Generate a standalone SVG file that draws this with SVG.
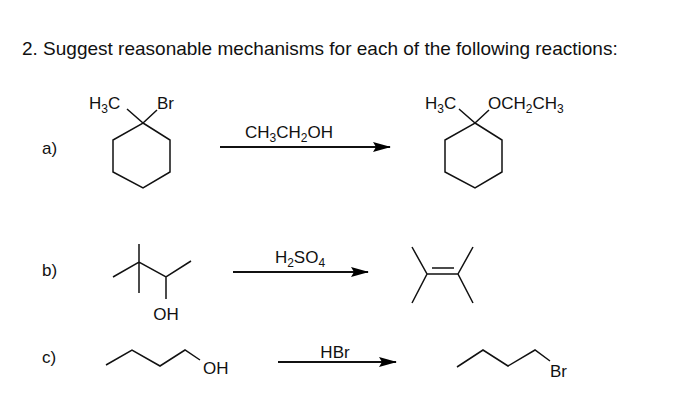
<svg xmlns="http://www.w3.org/2000/svg" width="700" height="412" viewBox="0 0 700 412">
<defs><marker id="ah" markerWidth="18" markerHeight="10" refX="17" refY="5" orient="auto" markerUnits="userSpaceOnUse"><path d="M0,0 L18,5 L0,10 L3,5 Z" fill="#000"/></marker></defs>
<style>
text{font-family:"Liberation Sans",Arial,sans-serif;fill:#111}
.b{stroke:#111;stroke-width:1.5;fill:none;stroke-linejoin:miter}
.m{font-size:17px}
.a{stroke:#111;stroke-width:2;marker-end:url(#ah)}
</style>
<rect width="700" height="412" fill="#fff"/>
<text x="22" y="55" font-size="19">2. Suggest reasonable mechanisms for each of the following reactions:</text>
<text x="42" y="154" font-size="17">a)</text>
<text x="42" y="276" font-size="17">b)</text>
<text x="42" y="363" font-size="17">c)</text>
<g id="a-reactant">
<path class="b" d="M127,109 L143,123 L157,110 M143,123 L170,140 L170,172 L143,188 L113,172 L113,140 Z"/>
<text class="m" x="89" y="109">H<tspan font-size="12" dy="4">3</tspan><tspan dy="-4">C</tspan></text>
<text class="m" x="157" y="109">Br</text>
</g>
<g id="a-product">
<path class="b" d="M459,109 L475,123 L489,110 M475,123 L502,140 L502,172 L475,188 L445,172 L445,140 Z"/>
<text class="m" x="425" y="109">H<tspan font-size="12" dy="4">3</tspan><tspan dy="-4">C</tspan></text>
<text class="m" x="488" y="109">OCH<tspan font-size="12" dy="4">2</tspan><tspan dy="-4">CH</tspan><tspan font-size="12" dy="4">3</tspan></text>
</g>
<g id="b-reactant">
<path class="b" d="M139,244 L139,293 M113,277 L139,262 L166,277 L191,261 M166,277 L166,299"/>
<text class="m" x="166" y="320" text-anchor="middle">OH</text>
</g>
<g id="b-product">
<path class="b" d="M412,247 L427,274 L412,303 M427,274 L458,274 M473,247 L458,274 L473,303 M432,268 L454,268"/>
</g>
<g id="c-reactant">
<path class="b" d="M106,365 L132,350 L160,366 L185,350 L200,360"/>
<text class="m" x="203" y="374">OH</text>
</g>
<g id="c-product">
<path class="b" d="M457,367 L483,350 L508,366 L535,350 L550,361"/>
<text class="m" x="550" y="377">Br</text>
</g>
<g id="connectors">
<line class="a" x1="220" y1="147" x2="390" y2="147"/>
<line class="a" x1="233" y1="272" x2="368" y2="272"/>
<line class="a" x1="278" y1="362" x2="396" y2="362"/>
<text class="m" x="289" y="138" text-anchor="middle">CH<tspan font-size="12" dy="4">3</tspan><tspan dy="-4">CH</tspan><tspan font-size="12" dy="4">2</tspan><tspan dy="-4">OH</tspan></text>
<text class="m" x="300" y="263" text-anchor="middle">H<tspan font-size="12" dy="4">2</tspan><tspan dy="-4">SO</tspan><tspan font-size="12" dy="4">4</tspan></text>
<text class="m" x="335" y="358" text-anchor="middle">HBr</text>
</g>
</svg>
